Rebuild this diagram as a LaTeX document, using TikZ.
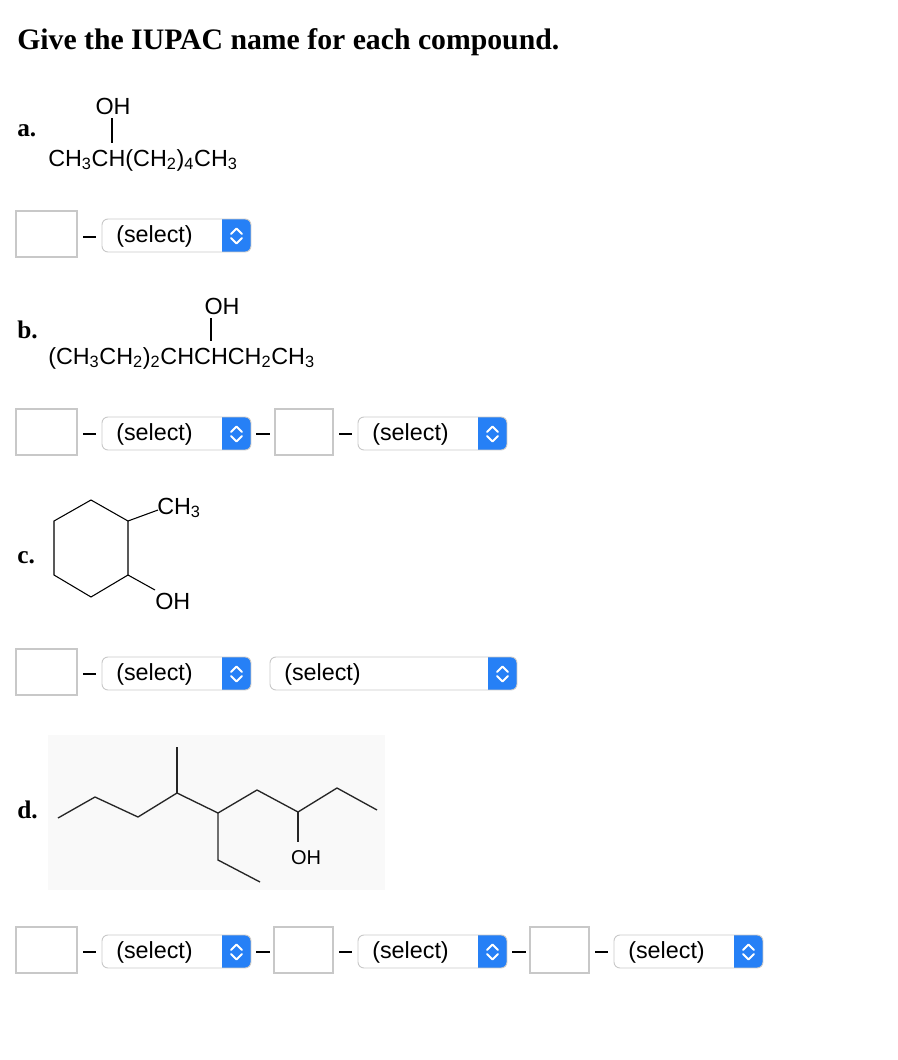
\documentclass[tikz,border=0pt]{standalone}
\usepackage{fontspec}
\setmainfont{Liberation Serif}
\newfontfamily\hv{Liberation Sans}
\definecolor{selblue}{RGB}{38,128,246}
\definecolor{boxgray}{RGB}{200,200,200}
\newcommand\ansbox[3]{% x1 x2 y
  \draw[boxgray,line width=0.8pt] (#1,#3-23) rectangle (#2,#3+23);}
\newcommand\dashln[3]{\draw[line width=1.4pt] (#1,#3) -- (#2,#3);}
\newcommand\selbox[4]{% name x1 x2 y
  \begin{scope}
  \clip[rounded corners=4.5] (#2,#4-17) rectangle (#3,#4+16);
  \fill[selblue] (#3-29,#4-17) rectangle (#3,#4+16);
  \end{scope}
  \draw[boxgray,line width=0.7pt,rounded corners=4.5] (#2,#4-17) rectangle (#3,#4+16);
  \node[seltext,anchor=west] (#1) at (#2+14,#4) {(select)};
  \draw[white,line width=1.4pt,line cap=round,line join=round] (#3-20,#4-2) -- (#3-14.5,#4-7.5) -- (#3-9,#4-2);
  \draw[white,line width=1.4pt,line cap=round,line join=round] (#3-20,#4+2) -- (#3-14.5,#4+7.5) -- (#3-9,#4+2);}
\begin{document}
\begin{tikzpicture}[x=0.75pt,y=-0.75pt,
  chem/.style={font=\hv\fontsize{17.5}{17.5}\selectfont,inner sep=0pt},
  seltext/.style={font=\hv\fontsize{17.5}{17.5}\selectfont,inner sep=0pt},
  lbl/.style={font=\bfseries\fontsize{19}{19}\selectfont,inner sep=0pt,anchor=west},
  bond/.style={line width=0.8pt},
  skel/.style={line width=1pt,black!85}]
\useasboundingbox (0,0) rectangle (898,1060);
\node[font=\bfseries\fontsize{22.3}{23}\selectfont,anchor=west,inner sep=0pt] (title) at (17,42) {Give the IUPAC name for each compound.};
% a
\node[lbl] (la) at (17,131) {a.};
\node[chem,anchor=west] (fa) at (48,160) {CH\textsubscript{3}CH(CH\textsubscript{2})\textsubscript{4}CH\textsubscript{3}};
\node[chem] (oha) at (113,106) {OH};
\draw[bond] (112,118) -- (112,143);
\ansbox{16}{77}{234}
\dashln{83}{96}{237}
\selbox{sa}{102}{251}{236}
% b
\node[lbl] (lb) at (17,330) {b.};
\node[chem,anchor=west] (fb) at (48,358) {(CH\textsubscript{3}CH\textsubscript{2})\textsubscript{2}CHCHCH\textsubscript{2}CH\textsubscript{3}};
\node[chem] (ohb) at (222,306) {OH};
\draw[bond] (211,318) -- (211,341);
\ansbox{16}{77}{432}
\dashln{83}{96}{434}
\selbox{sb1}{102}{251}{434}
\dashln{256}{270}{434}
\ansbox{275}{333}{432}
\dashln{339}{352}{434}
\selbox{sb2}{358}{507}{434}
% c
\node[lbl] (lc) at (17,558) {c.};
\draw[bond] (91,500) -- (128,521) -- (128,575) -- (91,597) -- (54,575) -- (54,521) -- cycle;
\draw[bond] (128,521) -- (158,510);
\draw[bond] (128,575) -- (155,590);
\node[chem,anchor=west] (ch3c) at (157,508) {CH\textsubscript{3}};
\node[chem,anchor=west] (ohc) at (155,601) {OH};
\ansbox{16}{77}{672}
\dashln{83}{96}{674}
\selbox{sc1}{102}{251}{674}
\selbox{sc2}{270}{517}{674}
% d
\node[lbl] (ld) at (17,810) {d.};
\fill[black!2.5] (48,735) rectangle (385,890);
\draw[skel,line join=round] (58,818) -- (95,797) -- (138,817) -- (177,793) -- (218,813) -- (257,790) -- (298,812) -- (337,788) -- (377,810);
\draw[skel] (177,793) -- (177,747);
\draw[skel] (218,813) -- (218,860) -- (260,882);
\draw[skel] (298,812) -- (298,842);
\node[chem,font=\hv\fontsize{15}{15}\selectfont] (ohd) at (306,858) {OH};
\ansbox{16}{77}{950}
\dashln{83}{96}{952}
\selbox{sd1}{102}{251}{952}
\dashln{256}{270}{952}
\ansbox{274}{333}{950}
\dashln{339}{352}{952}
\selbox{sd2}{358}{507}{952}
\dashln{512}{526}{952}
\ansbox{530}{589}{950}
\dashln{595}{608}{952}
\selbox{sd3}{614}{763}{952}
\end{tikzpicture}
\end{document}
